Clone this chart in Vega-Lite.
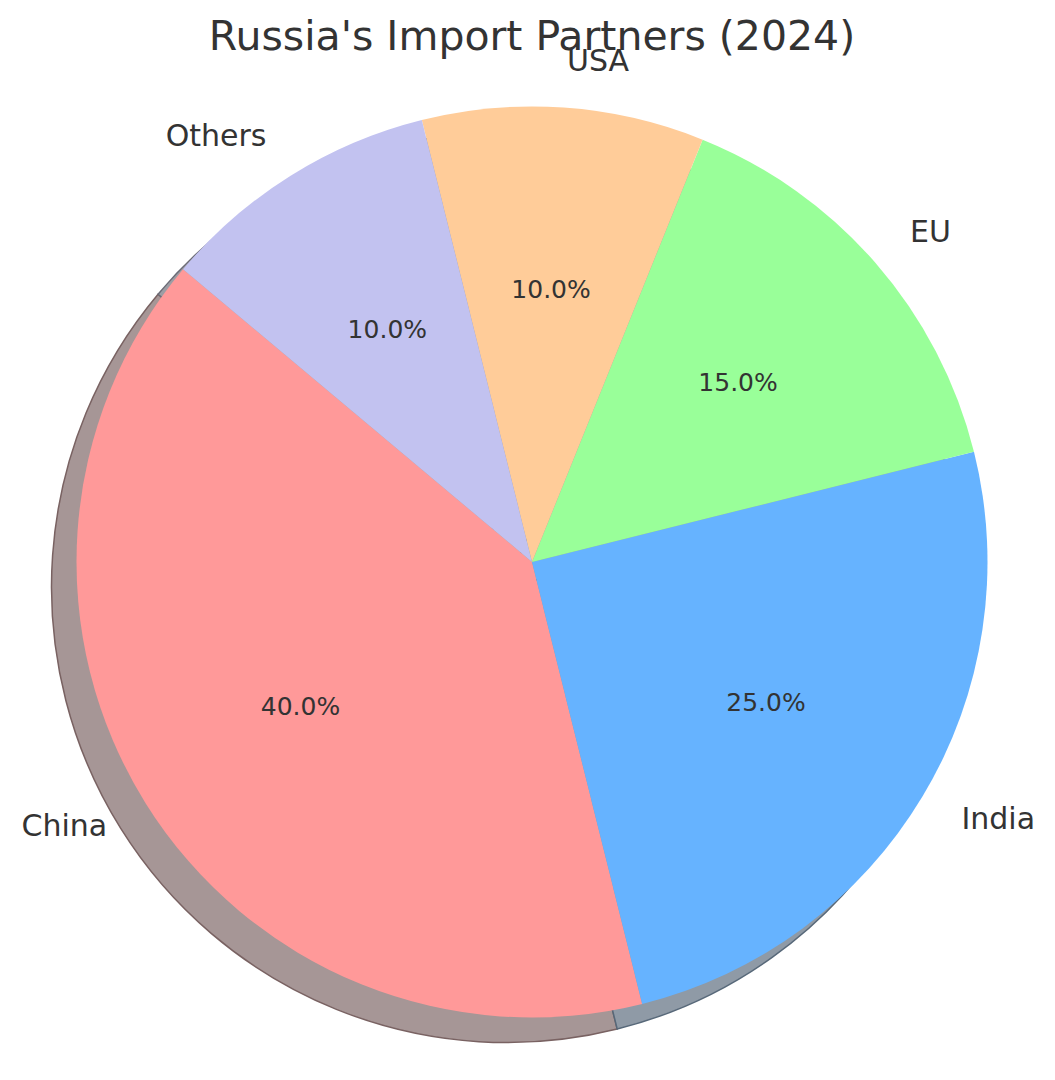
{
  "$schema": "https://vega.github.io/schema/vega-lite/v6.json",
  "width": 1046,
  "height": 1036,
  "autosize": "none",
  "padding": {"left": 9, "top": 44, "right": 0, "bottom": 0},
  "background": "white",
  "title": {
    "text": "Russia's Import Partners (2024)",
    "font": "DejaVu Sans",
    "fontSize": 41,
    "fontWeight": "normal",
    "color": "#333333",
    "anchor": "middle",
    "offset": 0,
    "dy": 15
  },
  "data": {
    "values": [
      {"Partner": "China", "share": 0.40},
      {"Partner": "India", "share": 0.25},
      {"Partner": "EU", "share": 0.15},
      {"Partner": "USA", "share": 0.10},
      {"Partner": "Others", "share": 0.10}
    ]
  },
  "encoding": {
    "theta": {
      "field": "share",
      "type": "quantitative",
      "stack": true,
      "scale": {"type": "linear", "domain": [0, 1], "range": [5.4105, -0.8727], "zero": true}
    },
    "order": {"field": "share", "type": "quantitative", "sort": "descending"},
    "detail": {"field": "Partner", "type": "nominal"}
  },
  "layer": [
    {
      "mark": {"type": "arc", "radius": 455.5, "xOffset": -25, "yOffset": 25, "strokeWidth": 1.5},
      "encoding": {
        "fill": {
          "field": "Partner",
          "type": "nominal",
          "scale": {
            "domain": ["China", "India", "EU", "USA", "Others"],
            "range": ["#a69696", "#8f9aa6", "#96a696", "#a69e96", "#9d9da4"]
          },
          "legend": null
        },
        "stroke": {
          "field": "Partner",
          "type": "nominal",
          "scale": {
            "domain": ["China", "India", "EU", "USA", "Others"],
            "range": ["#796262", "#576879", "#627962", "#796e62", "#6b6b76"]
          },
          "legend": null
        }
      }
    },
    {
      "mark": {"type": "arc", "radius": 455.5},
      "encoding": {
        "color": {
          "field": "Partner",
          "type": "nominal",
          "scale": {
            "domain": ["China", "India", "EU", "USA", "Others"],
            "range": ["#ff9999", "#66b3ff", "#99ff99", "#ffcc99", "#c2c2f0"]
          },
          "legend": null
        }
      }
    },
    {
      "mark": {
        "type": "text",
        "radius": 501,
        "font": "DejaVu Sans",
        "fontSize": 30,
        "color": "#333333",
        "baseline": "middle",
        "align": {"expr": "datum.Partner == 'China' || datum.Partner == 'Others' ? 'right' : 'left'"}
      },
      "encoding": {"text": {"field": "Partner", "type": "nominal"}}
    },
    {
      "mark": {
        "type": "text",
        "radius": 273,
        "font": "DejaVu Sans",
        "fontSize": 25,
        "color": "#333333",
        "baseline": "middle",
        "align": "center"
      },
      "encoding": {"text": {"field": "share", "type": "quantitative", "format": ".1%"}}
    }
  ]
}
